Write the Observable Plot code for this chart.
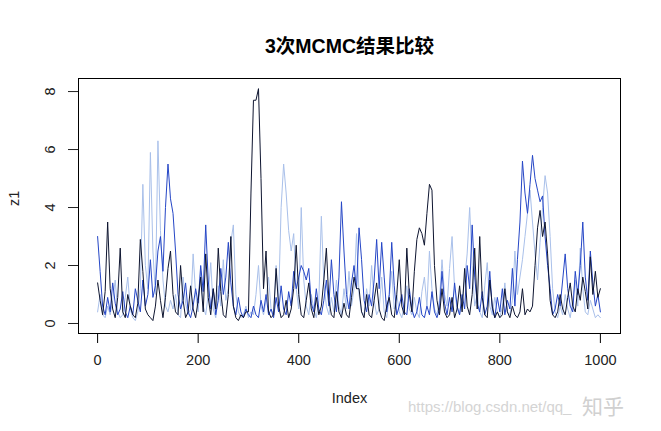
<!DOCTYPE html>
<html>
<head>
<meta charset="utf-8">
<script src="https://cdn.jsdelivr.net/npm/d3@7"></script>
<script src="https://cdn.jsdelivr.net/npm/@observablehq/plot@0.6"></script>
<style>
  html, body { margin: 0; padding: 0; background: #fff; }
  #wrap { position: relative; width: 661px; height: 431px; font-family: "Liberation Sans", Arial, sans-serif; }
  #wm { position: absolute; left: 408px; top: 398px; color: #d4d4d4; font-size: 15px; white-space: nowrap; }
  #wm2 { position: absolute; left: 582px; top: 390px; color: #d0d0d0; font-size: 21px; font-family: "Noto Sans CJK SC", sans-serif; }
</style>
</head>
<body>
<div id="wrap"><div id="wm">https://blog.csdn.net/qq_</div><div id="wm2">知乎</div></div>
<script>
const title = "3次MCMC结果比较";
const xLabel = "Index";
const yLabel = "z1";
const xTicks = [0, 200, 400, 600, 800, 1000];
const yTicks = [0, 2, 4, 6, 8];
const step = 5;

// chain drawn darkest (sampled every 5 iterations)
const chainDark = [
  1.4,0.8,0.3,1.1,3.5,1.2,0.5,0.2,0.9,2.6, 0.4,0.2,1.0,0.6,0.3,0.2,0.7,2.9,1.8,0.5,
  0.3,0.2,0.1,0.6,1.5,0.8,0.2,0.9,1.9,2.5, 1.0,0.4,0.3,2.0,0.8,0.2,0.4,1.3,0.5,0.2,
  0.8,1.6,0.4,2.4,0.9,0.3,1.2,0.5,2.6,1.1, 0.3,0.2,1.0,3.0,0.6,0.2,0.1,0.3,0.2,0.4,
  0.4,4.5,7.7,7.7,8.1,5.0,1.2,2.5,0.4,0.2, 0.3,1.9,0.6,0.2,0.3,0.8,0.2,0.5,1.2,2.7,
  1.0,0.3,0.2,0.8,1.4,0.5,0.2,0.9,0.3,0.6, 1.5,2.6,0.8,0.3,0.2,1.1,0.4,0.2,0.7,0.3,
  0.2,0.9,1.6,1.2,1.2,0.4,0.2,1.0,0.3,0.2, 0.8,1.4,0.5,0.2,0.1,0.6,0.9,0.3,0.2,1.0,
  2.2,0.6,0.3,2.6,1.0,0.4,1.8,2.9,3.3,3.1, 2.7,3.8,4.8,4.6,2.0,0.8,0.3,1.2,0.4,0.2,
  0.3,0.9,0.2,0.5,1.3,0.4,1.9,0.6,0.3,1.0, 2.6,0.5,3.0,0.9,0.3,0.2,1.5,0.6,0.2,0.4,
  0.2,0.3,1.2,0.4,0.2,0.6,0.3,0.2,0.4,1.2, 0.3,0.5,0.4,0.6,2.0,3.3,3.9,3.0,3.5,2.4,
  0.8,0.3,0.2,0.4,1.0,0.5,0.3,0.9,1.4,0.6, 0.4,1.2,0.8,1.6,1.1,0.5,2.3,1.0,1.8,0.9,
  1.2
];

// chain drawn medium blue
const chainMid = [
  3.0,1.8,0.6,0.3,0.9,0.4,1.4,0.7,0.3,0.5, 1.1,0.4,0.2,0.6,0.3,1.2,0.8,0.4,1.5,0.6,
  1.0,2.2,0.9,1.3,2.5,3.0,1.8,4.0,5.5,4.3, 3.8,2.5,1.0,0.5,0.8,1.4,0.4,0.2,0.6,1.2,
  0.7,2.0,1.1,3.4,1.5,0.5,1.2,0.3,0.8,1.9, 1.0,1.6,2.8,1.4,0.6,0.3,0.9,0.4,0.2,0.5,
  0.3,0.2,0.6,0.3,0.2,0.8,0.4,1.0,0.3,0.5, 0.2,0.9,0.4,1.3,0.5,0.3,1.1,0.6,1.8,1.2,
  1.6,2.0,1.8,1.5,1.9,0.7,0.4,1.2,0.5,0.3, 0.8,1.5,0.6,2.2,1.0,0.4,1.6,4.2,2.5,1.0,
  0.5,1.4,2.0,1.2,3.3,2.2,0.8,0.4,1.0,0.6, 1.5,2.9,1.2,2.8,1.6,0.4,1.0,2.8,1.3,0.3,
  0.6,1.0,0.4,0.3,1.2,0.5,0.2,0.4,0.9,0.3, 0.2,0.6,0.3,1.1,0.4,0.2,0.5,1.8,0.7,0.3,
  0.9,0.4,1.4,0.6,0.3,1.0,0.5,2.0,1.2,3.4, 1.6,0.7,0.4,1.1,0.3,0.6,1.8,0.5,0.2,0.9,
  0.4,1.2,0.3,0.8,0.5,1.9,0.6,2.2,3.5,5.6, 4.5,3.8,4.8,5.8,5.0,4.6,4.2,4.4,3.0,2.0,
  1.2,0.3,0.5,1.0,0.6,1.5,2.4,1.2,0.6,0.4, 1.8,1.0,2.0,3.5,1.6,0.8,2.5,1.4,0.6,1.0,
  0.4
];

// chain drawn light blue
const chainLight = [
  0.4,1.0,0.3,0.2,0.6,0.3,0.8,1.5,0.4,0.2, 0.3,0.9,1.6,0.5,0.2,0.1,0.4,1.2,4.8,2.0,
  1.2,5.9,2.5,1.0,6.3,3.2,1.5,0.6,0.4,0.8, 0.5,1.0,0.3,0.2,1.6,0.7,0.3,0.5,2.4,1.0,
  0.4,1.8,0.6,0.3,1.0,2.1,0.5,0.2,1.3,0.6, 2.2,0.8,1.2,2.8,3.4,1.0,0.4,0.2,0.3,0.6,
  0.2,0.4,0.3,1.0,2.0,0.6,0.3,0.8,1.6,0.5, 0.3,2.0,0.8,4.0,5.5,4.5,3.2,2.5,3.1,1.2,
  0.5,4.0,1.5,0.6,0.3,1.0,0.5,0.2,0.8,3.7, 1.4,0.6,0.3,0.9,0.4,1.5,0.6,0.3,1.2,0.5,
  1.8,0.6,1.2,3.1,1.0,0.4,0.3,1.2,0.6,2.0, 0.8,0.3,0.5,1.6,0.4,0.2,0.9,1.8,0.5,1.0,
  0.4,0.2,0.6,1.3,0.5,0.3,0.9,0.4,0.2,1.1, 1.6,0.6,2.5,1.2,0.5,0.3,0.8,2.2,1.0,0.6,
  1.9,3.0,1.2,0.5,0.3,0.8,1.5,2.4,4.0,2.0, 0.6,1.0,0.4,0.2,1.3,2.1,0.6,0.3,0.9,0.4,
  0.2,0.6,1.4,0.4,0.3,0.8,2.5,1.0,1.6,2.2, 3.0,3.8,4.6,3.5,2.4,1.5,2.8,4.0,5.1,4.5,
  3.0,1.2,0.4,0.2,0.6,0.3,1.0,0.5,0.2,0.8, 1.5,0.6,2.6,1.2,0.4,0.3,0.8,0.5,0.2,0.3,
  0.2
];

const colors = { dark: "#0e1530", mid: "#2546c6", light: "#a9c0ea" };

const toRows = (arr) => arr.map((v, i) => ({ index: i * step, value: v }));

const font = "Liberation Sans, Arial, sans-serif";

const chart = Plot.plot({
  width: 661,
  height: 431,
  marginLeft: 78,
  marginRight: 41,
  marginTop: 78,
  marginBottom: 98,
  style: { fontFamily: font, fontSize: "14.5px", color: "#222", background: "white" },
  x: { domain: [-38, 1040] },
  y: { domain: [-0.345, 8.45] },
  marks: [
    Plot.frame({ stroke: "#000", strokeWidth: 1 }),
    Plot.line(toRows(chainLight), { x: "index", y: "value", stroke: colors.light, strokeWidth: 1 }),
    Plot.line(toRows(chainMid), { x: "index", y: "value", stroke: colors.mid, strokeWidth: 1 }),
    Plot.line(toRows(chainDark), { x: "index", y: "value", stroke: colors.dark, strokeWidth: 1 }),
    Plot.axisX({ ticks: xTicks, tickFormat: d => String(d), tickSize: 10, tickPadding: 11, fontSize: 14.5, label: null, stroke: "#000" }),
    Plot.axisY({ ticks: yTicks, tickFormat: d => String(d), tickSize: 10, tickPadding: 14, fontSize: 14.5, tickRotate: -90, label: null, textAnchor: "middle" }),
    Plot.text([xLabel], { frameAnchor: "bottom", dy: 69, fontSize: 14.5, text: d => d }),
    Plot.text([yLabel], { frameAnchor: "left", dx: -64, rotate: -90, fontSize: 14.5, text: d => d }),
    Plot.text([title], { frameAnchor: "top", dy: -39, fontSize: 19.5, fontWeight: "bold", fill: "#000", text: d => d, fontFamily: "Liberation Sans, Noto Sans CJK SC, sans-serif" })
  ]
});
document.getElementById("wrap").prepend(chart);
</script>
</body>
</html>
